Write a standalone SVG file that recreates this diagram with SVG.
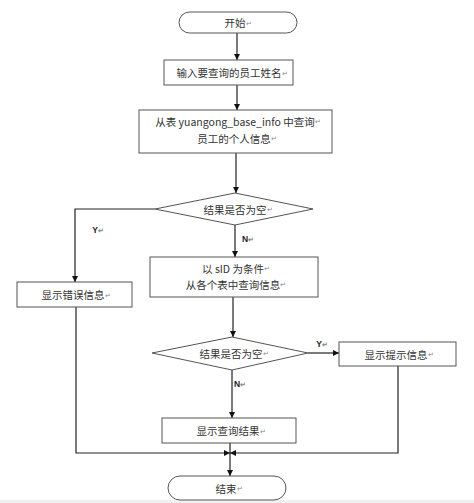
<svg xmlns="http://www.w3.org/2000/svg" width="474" height="503" viewBox="0 0 474 503">
<style>
.box{fill:#fff;stroke:#555;stroke-width:1}
.ln{fill:none;stroke:#222;stroke-width:1.2}
.t{font-family:"Noto Sans CJK SC","Liberation Sans",sans-serif;font-size:10.5px;fill:#333;text-anchor:middle;dominant-baseline:central}
.r{font-size:7px;fill:#888}
.lb{font-family:"Liberation Sans",Arial,sans-serif;font-size:8.5px;font-weight:bold;fill:#222;text-anchor:middle;dominant-baseline:central}
</style>
<defs>
<marker id="ah" viewBox="0 0 10 10" refX="10" refY="5" markerWidth="6" markerHeight="6" markerUnits="userSpaceOnUse" orient="auto">
<path d="M0,0 L10,5 L0,10 z" fill="#111"/>
</marker>
</defs>
<rect x="0" y="0" width="474" height="503" fill="#fff"/>
<rect x="0" y="500" width="474" height="3" fill="#f0f0f0"/>
<g id="connectors">
<line class="ln" x1="237" y1="33" x2="237" y2="60" marker-end="url(#ah)"/>
<line class="ln" x1="237" y1="85" x2="237" y2="110" marker-end="url(#ah)"/>
<line class="ln" x1="236" y1="153" x2="236" y2="193" marker-end="url(#ah)"/>
<line class="ln" x1="235" y1="225" x2="235" y2="257" marker-end="url(#ah)"/>
<polyline class="ln" points="155,209 75,209 75,282" marker-end="url(#ah)"/>
<line class="ln" x1="233" y1="297" x2="233" y2="337" marker-end="url(#ah)"/>
<line class="ln" x1="308" y1="353" x2="339" y2="353" marker-end="url(#ah)"/>
<line class="ln" x1="232" y1="370" x2="232" y2="418" marker-end="url(#ah)"/>
<line class="ln" x1="230" y1="443" x2="230" y2="476" marker-end="url(#ah)"/>
<polyline class="ln" points="76,307 76,453 230,453" marker-end="url(#ah)"/>
<polyline class="ln" points="398,366 398,453 230,453" marker-end="url(#ah)"/>
<text class="lb" x="98" y="230">Y<tspan class="r">↵</tspan></text>
<text class="lb" x="248" y="239">N<tspan class="r">↵</tspan></text>
<text class="lb" x="322" y="344">Y<tspan class="r">↵</tspan></text>
<text class="lb" x="240" y="384">N<tspan class="r">↵</tspan></text>
</g>
<g id="start">
<rect class="box" x="179" y="12" width="118" height="21" rx="10.5"/>
<text class="t" x="238" y="22.5">开始<tspan class="r">↵</tspan></text>
</g>
<g id="input">
<rect class="box" x="164" y="60" width="129" height="25"/>
<text class="t" x="232" y="72.5">输入要查询的员工姓名<tspan class="r">↵</tspan></text>
</g>
<g id="query1">
<rect class="box" x="139" y="110" width="193" height="43"/>
<text class="t" x="238" y="121">从表 yuangong_base_info 中查询<tspan class="r">↵</tspan></text>
<text class="t" x="237" y="138">员工的个人信息<tspan class="r">↵</tspan></text>
</g>
<g id="decision1">
<polygon class="box" points="155,209 235,193 313,209 235,225"/>
<text class="t" x="238" y="209">结果是否为空<tspan class="r">↵</tspan></text>
</g>
<g id="error">
<rect class="box" x="17" y="282" width="115" height="25"/>
<text class="t" x="76" y="294.5">显示错误信息<tspan class="r">↵</tspan></text>
</g>
<g id="query2">
<rect class="box" x="150" y="257" width="168" height="40"/>
<text class="t" x="236" y="268">以 sID 为条件<tspan class="r">↵</tspan></text>
<text class="t" x="236" y="284">从各个表中查询信息<tspan class="r">↵</tspan></text>
</g>
<g id="decision2">
<polygon class="box" points="152,353 232,337 308,353 232,370"/>
<text class="t" x="234" y="353">结果是否为空<tspan class="r">↵</tspan></text>
</g>
<g id="hint">
<rect class="box" x="339" y="342" width="117" height="24"/>
<text class="t" x="399" y="354">显示提示信息<tspan class="r">↵</tspan></text>
</g>
<g id="result">
<rect class="box" x="162" y="418" width="134" height="25"/>
<text class="t" x="231" y="430.5">显示查询结果<tspan class="r">↵</tspan></text>
</g>
<g id="end">
<rect class="box" x="168" y="476" width="118" height="24" rx="12"/>
<text class="t" x="229" y="488">结束<tspan class="r">↵</tspan></text>
</g>
</svg>
